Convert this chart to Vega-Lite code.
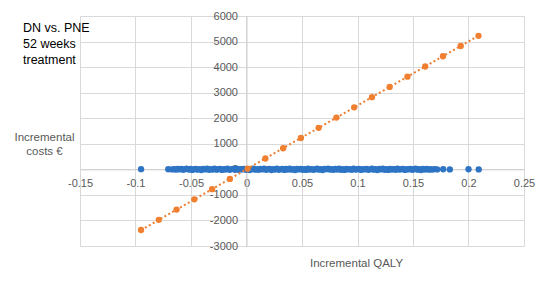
{
  "$schema": "https://vega.github.io/schema/vega-lite/v6.json",
  "width": 444,
  "height": 230,
  "autosize": {"type": "none"},
  "padding": {"left": 80, "top": 16, "right": 26, "bottom": 36},
  "background": "white",
  "config": {"view": {"stroke": null}},
  "title": {
    "text": ["DN vs. PNE", "52 weeks", "treatment"],
    "anchor": "start",
    "frame": "group",
    "baseline": "top",
    "dx": -57,
    "dy": 60,
    "font": "Liberation Sans",
    "fontSize": 12.5,
    "fontWeight": "normal",
    "color": "#000000",
    "lineHeight": 16
  },
  "datasets": {
    "sim": [
      {"q": -0.095, "c": 5}, {"q": -0.0705, "c": 3}, {"q": -0.067, "c": -4}, {"q": -0.065, "c": 8},
      {"q": -0.0635, "c": -10}, {"q": -0.062, "c": 12}, {"q": -0.0603, "c": -2}, {"q": -0.0588, "c": 20},
      {"q": -0.057, "c": -15}, {"q": -0.0552, "c": 6}, {"q": -0.0541, "c": 25}, {"q": -0.052, "c": -8},
      {"q": -0.0507, "c": 14}, {"q": -0.0489, "c": -22}, {"q": -0.0472, "c": 4}, {"q": -0.0458, "c": 18},
      {"q": -0.0441, "c": -12}, {"q": -0.0423, "c": 9}, {"q": -0.0406, "c": -26}, {"q": -0.0391, "c": 15},
      {"q": -0.0372, "c": -3}, {"q": -0.0356, "c": 22}, {"q": -0.0338, "c": -17}, {"q": -0.0322, "c": 7},
      {"q": -0.0305, "c": -9}, {"q": -0.0289, "c": 27}, {"q": -0.0271, "c": -14}, {"q": -0.0256, "c": 2},
      {"q": -0.0238, "c": 19}, {"q": -0.0221, "c": -24}, {"q": -0.0205, "c": 10}, {"q": -0.0189, "c": -6},
      {"q": -0.0172, "c": 23}, {"q": -0.0154, "c": -19}, {"q": -0.0139, "c": 1}, {"q": -0.0121, "c": 16},
      {"q": -0.0106, "c": -11}, {"q": -0.0088, "c": 28}, {"q": -0.0072, "c": -21}, {"q": -0.0055, "c": 8},
      {"q": -0.0039, "c": -5}, {"q": -0.0022, "c": 21}, {"q": -0.0006, "c": -16}, {"q": 0.0011, "c": 11},
      {"q": 0.0028, "c": -27}, {"q": 0.0044, "c": 4}, {"q": 0.0061, "c": 24}, {"q": 0.0077, "c": -13},
      {"q": 0.0094, "c": 6}, {"q": 0.0109, "c": -20}, {"q": 0.0127, "c": 17}, {"q": 0.0142, "c": -4},
      {"q": 0.0159, "c": 26}, {"q": 0.0176, "c": -18}, {"q": 0.0192, "c": 3}, {"q": 0.0208, "c": 13},
      {"q": 0.0225, "c": -25}, {"q": 0.0241, "c": 9}, {"q": 0.0258, "c": -7}, {"q": 0.0274, "c": 22},
      {"q": 0.0291, "c": -15}, {"q": 0.0307, "c": 0}, {"q": 0.0324, "c": 18}, {"q": 0.0341, "c": -23},
      {"q": 0.0357, "c": 12}, {"q": 0.0373, "c": -9}, {"q": 0.0389, "c": 27}, {"q": 0.0406, "c": -12},
      {"q": 0.0423, "c": 5}, {"q": 0.0439, "c": -28}, {"q": 0.0455, "c": 15}, {"q": 0.0472, "c": -3},
      {"q": 0.0488, "c": 20}, {"q": 0.0505, "c": -17}, {"q": 0.0521, "c": 7}, {"q": 0.0538, "c": -22},
      {"q": 0.0554, "c": 25}, {"q": 0.0571, "c": -6}, {"q": 0.0587, "c": 10}, {"q": 0.0603, "c": -19},
      {"q": 0.062, "c": 2}, {"q": 0.0636, "c": 23}, {"q": 0.0653, "c": -14}, {"q": 0.0669, "c": 8},
      {"q": 0.0686, "c": -26}, {"q": 0.0702, "c": 17}, {"q": 0.0719, "c": -1}, {"q": 0.0735, "c": 29},
      {"q": 0.0752, "c": -11}, {"q": 0.0768, "c": 4}, {"q": 0.0784, "c": -21}, {"q": 0.0801, "c": 14},
      {"q": 0.0817, "c": -8}, {"q": 0.0834, "c": 24}, {"q": 0.085, "c": -16}, {"q": 0.0867, "c": 6},
      {"q": 0.0883, "c": -24}, {"q": 0.09, "c": 19}, {"q": 0.0916, "c": -4}, {"q": 0.0932, "c": 11},
      {"q": 0.0949, "c": -18}, {"q": 0.0965, "c": 26}, {"q": 0.0982, "c": -10}, {"q": 0.0998, "c": 3},
      {"q": 0.1015, "c": 21}, {"q": 0.1031, "c": -23}, {"q": 0.1048, "c": 9}, {"q": 0.1064, "c": -5},
      {"q": 0.108, "c": 16}, {"q": 0.1097, "c": -20}, {"q": 0.1113, "c": 1}, {"q": 0.113, "c": 25},
      {"q": 0.1146, "c": -13}, {"q": 0.1163, "c": 7}, {"q": 0.1179, "c": -27}, {"q": 0.1196, "c": 13},
      {"q": 0.1212, "c": -2}, {"q": 0.1228, "c": 22}, {"q": 0.1245, "c": -15}, {"q": 0.1261, "c": 5},
      {"q": 0.1278, "c": -22}, {"q": 0.1294, "c": 18}, {"q": 0.1311, "c": -7}, {"q": 0.1327, "c": 10},
      {"q": 0.1344, "c": -17}, {"q": 0.136, "c": 27}, {"q": 0.1376, "c": -9}, {"q": 0.1393, "c": 2},
      {"q": 0.1409, "c": 19}, {"q": 0.1426, "c": -24}, {"q": 0.1442, "c": 8}, {"q": 0.1459, "c": -3},
      {"q": 0.1475, "c": 15}, {"q": 0.1492, "c": -19}, {"q": 0.1508, "c": 4}, {"q": 0.1524, "c": 23},
      {"q": 0.1541, "c": -12}, {"q": 0.1557, "c": 6}, {"q": 0.1574, "c": -25}, {"q": 0.159, "c": 12},
      {"q": 0.1607, "c": -6}, {"q": 0.1623, "c": 17}, {"q": 0.1641, "c": -14}, {"q": 0.1658, "c": 3},
      {"q": 0.1676, "c": -8}, {"q": 0.1695, "c": 9}, {"q": 0.1718, "c": -3}, {"q": 0.1772, "c": 2},
      {"q": 0.1832, "c": -2}, {"q": 0.2, "c": 4}, {"q": 0.2092, "c": -3}
    ],
    "wtp": [
      {"q": -0.095, "c": -2375}, {"q": -0.079, "c": -1975}, {"q": -0.063, "c": -1575},
      {"q": -0.047, "c": -1175}, {"q": -0.031, "c": -775}, {"q": -0.015, "c": -375},
      {"q": 0.001, "c": 25}, {"q": 0.017, "c": 425}, {"q": 0.033, "c": 825},
      {"q": 0.049, "c": 1225}, {"q": 0.065, "c": 1625}, {"q": 0.081, "c": 2025},
      {"q": 0.097, "c": 2425}, {"q": 0.113, "c": 2825}, {"q": 0.129, "c": 3225},
      {"q": 0.145, "c": 3625}, {"q": 0.161, "c": 4025}, {"q": 0.177, "c": 4425},
      {"q": 0.193, "c": 4825}, {"q": 0.209, "c": 5225}
    ]
  },
  "encoding": {
    "x": {
      "field": "q",
      "type": "quantitative",
      "scale": {"domain": [-0.15, 0.25], "nice": false, "zero": false},
      "axis": {
        "title": "Incremental QALY",
        "values": [-0.15, -0.1, -0.05, 0, 0.05, 0.1, 0.15, 0.2, 0.25],
        "labelExpr": "'' + datum.value",
        "offset": -76.67,
        "grid": true,
        "gridColor": "#d9d9d9",
        "gridWidth": 1,
        "domain": true,
        "domainColor": "#d0d0d0",
        "ticks": false,
        "labelPadding": 8,
        "labelColor": "#595959",
        "labelFont": "Liberation Sans",
        "labelFontSize": 11,
        "labelFlush": false,
        "labelOverlap": false,
        "titleFont": "Liberation Sans",
        "titleFontSize": 11.5,
        "titleFontWeight": "normal",
        "titleColor": "#595959",
        "titleX": 276,
        "titleY": 94,
        "titleAlign": "center",
        "titleBaseline": "middle"
      }
    },
    "y": {
      "field": "c",
      "type": "quantitative",
      "scale": {"domain": [-3000, 6000], "nice": false, "zero": false},
      "axis": {
        "title": ["Incremental", "costs €"],
        "values": [-3000, -2000, -1000, 0, 1000, 2000, 3000, 4000, 5000, 6000],
        "labelExpr": "'' + datum.value",
        "offset": -166.5,
        "grid": true,
        "gridColor": "#d9d9d9",
        "gridWidth": 1,
        "domain": true,
        "domainColor": "#d0d0d0",
        "ticks": false,
        "labelPadding": 9,
        "labelColor": "#595959",
        "labelFont": "Liberation Sans",
        "labelFontSize": 11,
        "labelFlush": false,
        "labelOverlap": false,
        "titleFont": "Liberation Sans",
        "titleFontSize": 11.5,
        "titleFontWeight": "normal",
        "titleColor": "#595959",
        "titleAngle": 0,
        "titleX": -202.5,
        "titleY": 115,
        "titleAlign": "center",
        "titleBaseline": "top",
        "titleLineHeight": 14
      }
    }
  },
  "layer": [
    {
      "data": {"name": "sim"},
      "mark": {"type": "circle", "size": 40, "opacity": 1, "color": "#2E74C4"}
    },
    {
      "data": {"name": "wtp"},
      "mark": {"type": "line", "color": "#ED7D31", "strokeWidth": 2, "strokeDash": [2, 2.5]}
    },
    {
      "data": {"name": "wtp"},
      "mark": {"type": "circle", "size": 40, "opacity": 1, "color": "#F07F30"}
    }
  ]
}
